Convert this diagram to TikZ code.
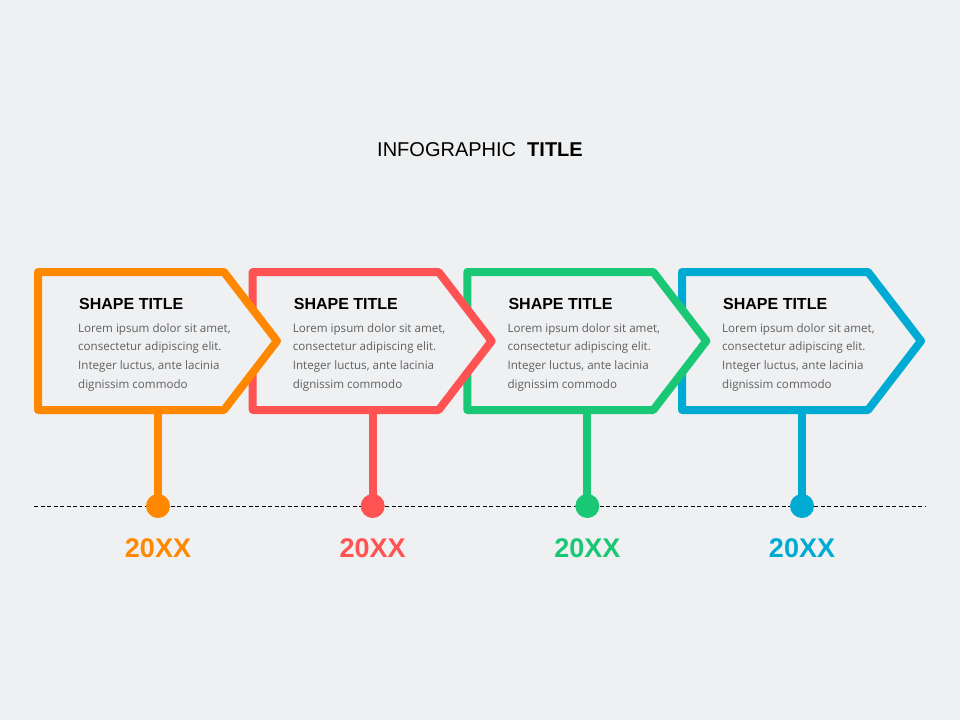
\documentclass[tikz,border=0pt]{standalone}
\usepackage{fontspec}
\setmainfont{Liberation Sans}
\newfontfamily\bodyfont{Open Sans}
\begin{document}
\begin{tikzpicture}[x=1pt,y=-1pt,
  boxline/.style={line width=8pt,line join=round},
  stemline/.style={line width=8pt},
  dot/.style={circle,inner sep=0pt,minimum size=24pt},
  stitle/.style={anchor=base west,inner sep=0pt,font=\bfseries\fontsize{16}{18}\selectfont,text=black},
  sbody/.style={anchor=north west,inner sep=0pt,align=left,font=\bodyfont\fontsize{11.6}{18.8}\selectfont,text=bodygrey},
  year/.style={anchor=center,inner sep=0pt,font=\bfseries\fontsize{27}{30}\selectfont}]
\definecolor{bg}{HTML}{EFF0F2}
\definecolor{c1}{HTML}{FF8800}
\definecolor{c2}{HTML}{FF5252}
\definecolor{c3}{HTML}{19C775}
\definecolor{c4}{HTML}{00ABD3}
\definecolor{bodygrey}{HTML}{5F5F5F}
\fill[bg] (0,0) rectangle (960,720);
\useasboundingbox (0,0) rectangle (960,720);
\node[anchor=base,inner sep=0pt,font=\fontsize{20}{24}\selectfont] (title) at (480,156) {INFOGRAPHIC\ \ \textbf{TITLE}};
\coordinate (lineL) at (34,506);
\coordinate (lineR) at (926,506);
\draw[black,line width=1pt,dash pattern=on 4pt off 2.5pt] (lineL) -- (lineR);
\foreach \i/\c in {3/c4,2/c3,1/c2,0/c1}{
  \pgfmathsetmacro{\dx}{214.67*\i}
  \begin{scope}[xshift=\dx pt]
    \draw[boxline,\c,fill=bg] (38,272) -- (224,272) -- (277,341) -- (224,410) -- (38,410) -- cycle;
    \coordinate (b\i) at (158,410);
    \node[dot,fill=\c] (d\i) at (158,506) {};
    \draw[stemline,\c] (b\i) -- (d\i.center);
    \node[stitle] (t\i) at (79,309) {SHAPE TITLE};
    \node[sbody] (p\i) at (78,323) {Lorem ipsum dolor sit amet,\\consectetur adipiscing elit.\\Integer luctus, ante lacinia\\dignissim commodo};
    \node[year,text=\c] (y\i) at (158,548) {20XX};
  \end{scope}
}
\end{tikzpicture}
\end{document}
